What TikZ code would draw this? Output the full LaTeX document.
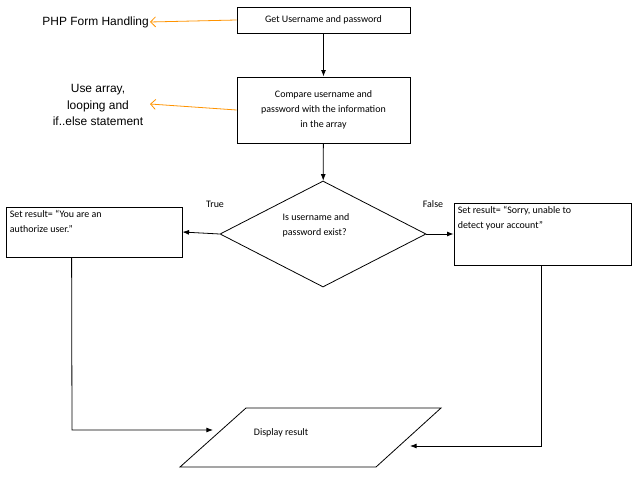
\documentclass[tikz,border=0pt]{standalone}
\usepackage{fontspec}
\setmainfont{Carlito}
\newfontfamily\arialf{Liberation Sans}
\usetikzlibrary{shapes.geometric,arrows.meta}
\begin{document}
\begin{tikzpicture}[x=1bp,y=-1bp,
  box/.style={draw,thick,font=\fontsize{10}{13}\selectfont},
  tx/.style={font=\fontsize{10}{15}\selectfont},
  arr/.style={-Latex,thick},
  oarr/.style={-{Straight Barb[length=5pt]},draw=orange!85!yellow,thick},
  side/.style={font=\arialf\fontsize{12}{17}\selectfont,align=center}]
\useasboundingbox (0,0) rectangle (638,478);
\node[box,minimum width=173bp,minimum height=26bp] (get) at (323.5,20) {Get Username and password};
\node[box,minimum width=173bp,minimum height=66bp,align=center,font=\fontsize{10}{15}\selectfont] (cmp) at (323.5,110) {Compare username and\\password with the information\\in the array};
\node[draw,thick,diamond,minimum width=206bp,minimum height=106bp,inner sep=0,aspect=2] (dia) at (323,234) {};
\node[tx,align=left] (dt) at (316,225) {Is username and\\password exist?};
\node[box,minimum width=176bp,minimum height=50bp] (lb) at (94,232) {};
\node[tx,align=left,anchor=north west,inner sep=4bp] (lt) at (lb.north west) {Set result= “You are an\\authorize user.”};
\node[box,minimum width=177bp,minimum height=62bp] (rb) at (542.5,234) {};
\node[tx,align=left,anchor=north west,inner sep=4bp] (rt) at (rb.north west) {Set result= “Sorry, unable to\\detect your account”};
\coordinate (p1) at (180,467); \coordinate (p2) at (246,408);
\coordinate (p3) at (441,408); \coordinate (p4) at (376,467);
\draw[thick] (p1) -- (p2) -- (p3) -- (p4) -- cycle;
\node[tx] (pt) at (281,433) {Display result};
\draw[arr] (get) -- (cmp);
\draw[arr] (cmp) -- (dia);
\draw[arr] (dia.west) -- (lb.east);
\draw[arr] (dia.east) -- (rb.west);
\node[tx] (tl) at (215,204) {True};
\node[tx] (fl) at (433,204) {False};
\coordinate (pl) at (213,430);
\coordinate (pr) at (410,446);
\draw[arr] (lb.south west) ++(66,0) coordinate (ls) -- (72,430) -- (pl);
\draw[arr] (541,265) coordinate (rs) -- (541,446) -- (pr);
\node[side,anchor=east,inner sep=1bp] (php) at (150,22) {PHP Form Handling};
\draw[oarr] (get.west) -- (php.east);
\node[side] (use) at (98,105) {Use array,\\looping and\\if..else statement};
\coordinate (uc) at (150,104);
\draw[oarr] (cmp.west) -- (uc);
\end{tikzpicture}
\end{document}
